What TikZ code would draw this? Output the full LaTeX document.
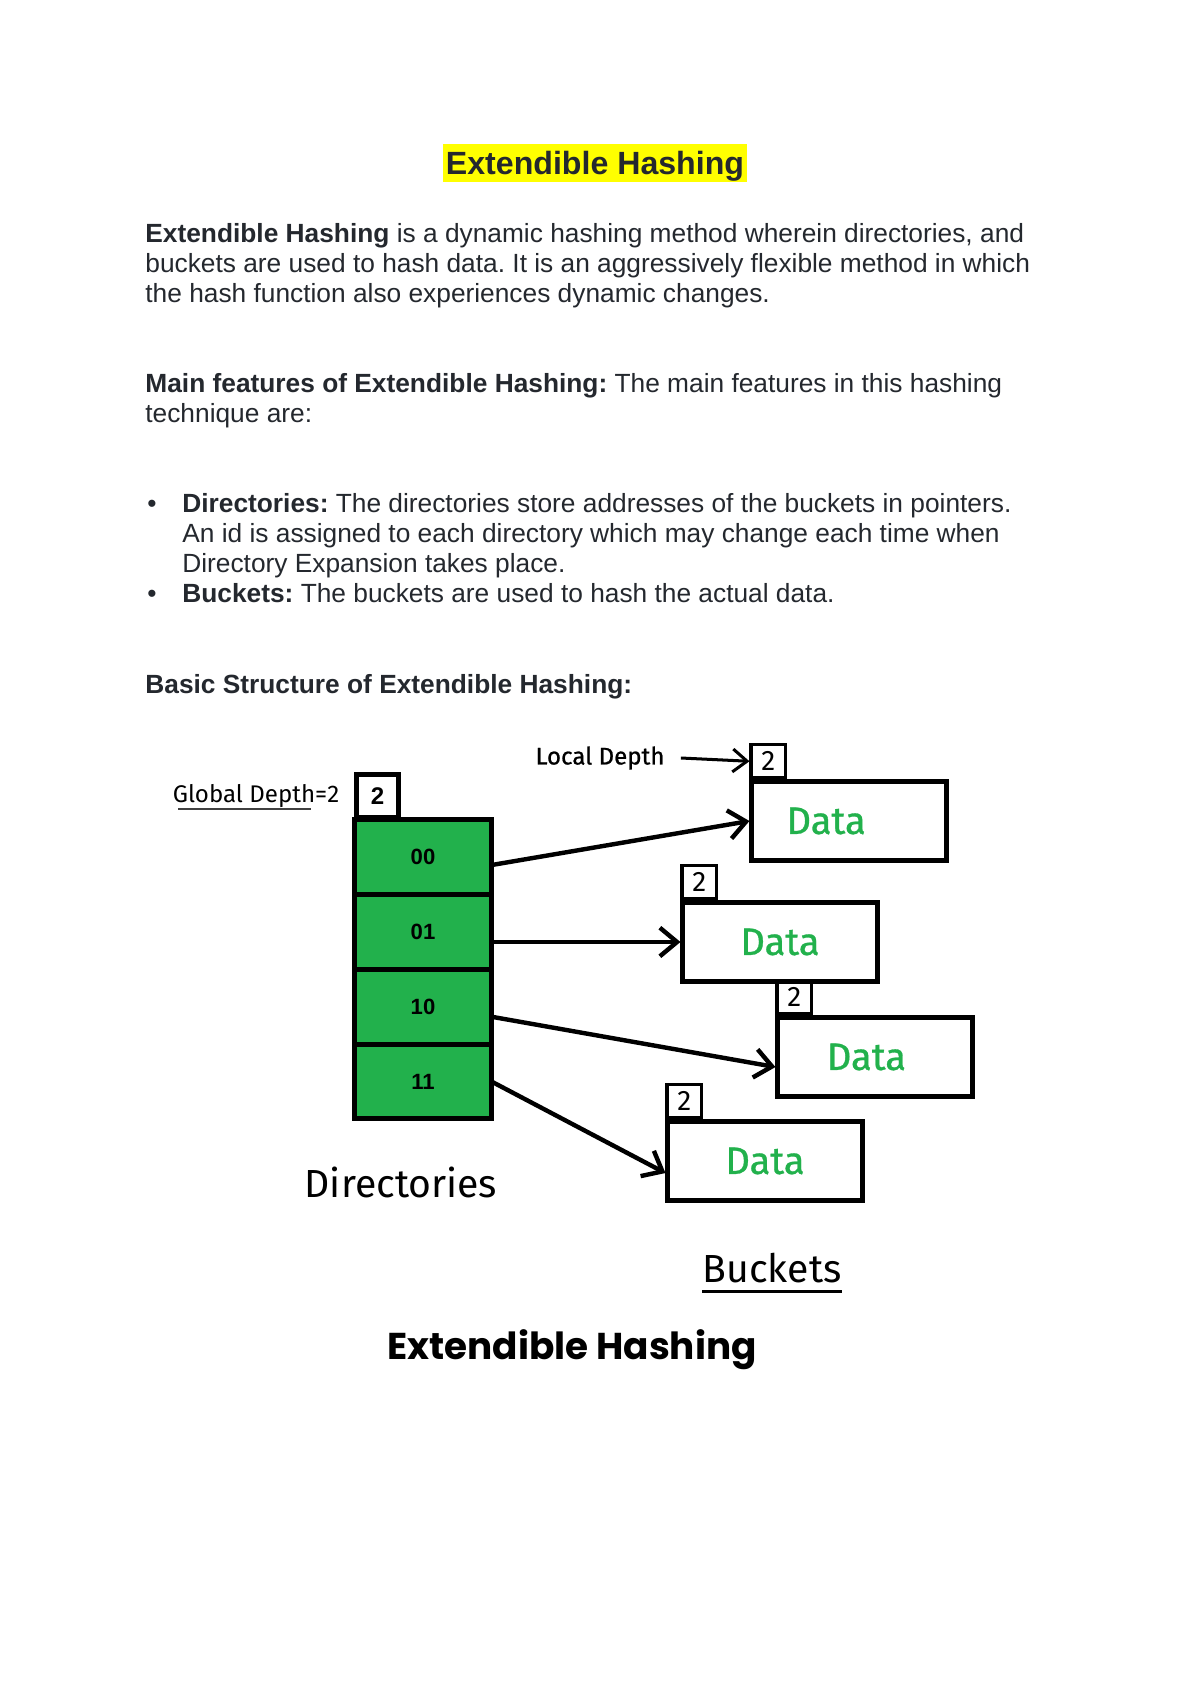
\documentclass[tikz,border=0pt]{standalone}
\usepackage{fontspec}
\setmainfont{Liberation Sans}
\newfontfamily\dinfont{Fira Sans}
\newfontfamily\dinmedium{Fira Sans}[FakeBold=0.8]
\newfontfamily\heavyfont{Poppins}
\usetikzlibrary{arrows.meta, positioning}
\definecolor{paintgreen}{RGB}{34,177,76}
\definecolor{markyellow}{RGB}{255,255,0}
\definecolor{bodyink}{RGB}{36,40,46}
\frenchspacing
\tikzset{
    bodytext/.style={anchor=north west, inner sep=0pt, align=left, text=bodyink, font=\fontsize{13.1}{14.9}\selectfont},
    dirrow/.style={rectangle, draw=black, line width=2.5pt, fill=paintgreen, minimum width=2.4cm, minimum height=1.31cm, outer sep=0pt, font=\bfseries\fontsize{11}{13}\selectfont},
    bucketbox/.style={rectangle, draw=black, line width=2.4pt, minimum width=3.4cm, minimum height=1.37cm, text=paintgreen, font=\dinmedium\fontsize{19}{22}\selectfont},
    depthbox/.style={rectangle, draw=black, line width=1.6pt, minimum width=0.6cm, minimum height=0.58cm, inner sep=0pt, font=\dinfont\fontsize{14}{16}\selectfont},
    ptrarrow/.style={-{Straight Barb[length=3mm, width=5mm]}, line width=2.2pt},
    caption/.style={inner sep=0pt, font=\dinfont\fontsize{19.5}{22}\selectfont},
}

\begin{document}
\begin{tikzpicture}[x=0.0175cm, y=-0.0175cm]

\path[fill=white] (0,0) rectangle (1200,1696);

% page text
\node[fill=markyellow, inner xsep=1.5pt, inner ysep=0.5pt, text height=14.6pt, text depth=3.6pt, text=bodyink, font=\bfseries\fontsize{16}{19}\selectfont] (title) at (595,163) {Extendible Hashing};

\node[bodytext] (intro) at (145,223) {\textbf{Extendible Hashing} is a dynamic hashing method wherein directories, and\\buckets are used to hash data. It is an aggressively flexible method in which\\the hash function also experiences dynamic changes.};

\node[bodytext] (features) at (145,373) {\textbf{Main features of Extendible Hashing:} The main features in this hashing\\technique are:};

\node[bodytext] (bullets) at (147,493) {\makebox[17.4pt][l]{\textbullet}\textbf{Directories:} The directories store addresses of the buckets in pointers.\\\hspace*{17.4pt}An id is assigned to each directory which may change each time when\\\hspace*{17.4pt}Directory Expansion takes place.\\\makebox[17.4pt][l]{\textbullet}\textbf{Buckets:} The buckets are used to hash the actual data.};

\node[bodytext] (basic) at (145,674) {\textbf{Basic Structure of Extendible Hashing:}};

% directories
\node[dirrow] (d00) at (423,857) {00};
\node[dirrow, below=0pt of d00] (d01) {01};
\node[dirrow, below=0pt of d01] (d10) {10};
\node[dirrow, below=0pt of d10] (d11) {11};

\node[depthbox, line width=2.5pt, minimum width=0.72cm, minimum height=0.75cm, font=\bfseries\fontsize{12}{14}\selectfont, above right=0pt of d00.north west] (gdepth) {2};
\node[caption, font=\dinfont\fontsize{12}{14}\selectfont, left=0.26cm of gdepth] (gdlabel) {Global Depth=2};
\draw[line width=0.9pt, black!75] ([xshift=3pt, yshift=-3.5pt]gdlabel.base west) -- ([xshift=-14pt, yshift=-3.5pt]gdlabel.base east);

% buckets
\node[bucketbox] (b1) at (849,821) {Data\hspace*{0.8cm}};
\node[bucketbox] (b2) at (780,942) {Data};
\node[bucketbox] (b3) at (875,1057) {Data\hspace*{0.3cm}};
\node[bucketbox] (b4) at (765,1161) {Data};

\node[depthbox, above right=0pt of b1.north west] (ld1) {2};
\node[depthbox, above right=0pt of b2.north west] (ld2) {2};
\node[depthbox, above right=0pt of b3.north west] (ld3) {2};
\node[depthbox, above right=0pt of b4.north west] (ld4) {2};

\node[caption, font=\dinmedium\fontsize{12}{14}\selectfont] (ldlabel) at (600,758) {Local Depth};
\draw[-{Straight Barb[length=2.5mm, width=4mm]}, line width=1.5pt] ([xshift=8pt]ldlabel.east) -- (ld1.west);

% pointers
\draw[ptrarrow] ([yshift=-4pt]d00.east) -- (b1.west);
\draw[ptrarrow] (d01.east |- b2.west) -- (b2.west);
\draw[ptrarrow] ([yshift=-5pt]d10.east) -- ([yshift=-5pt]b3.west);
\draw[ptrarrow] (d11.east) -- ([yshift=-6pt]b4.west);

% captions
\node[caption] (dirlabel) at (401,1182) {Directories};
\node[caption] (bktlabel) at (772,1268) {Buckets};
\draw[line width=1pt] ([yshift=-4.5pt]bktlabel.base west) -- ([yshift=-4.5pt]bktlabel.base east);

\node[font=\heavyfont\bfseries\fontsize{18.6}{22}\selectfont] (figtitle) at (572,1350) {Extendible Hashing};

\end{tikzpicture}
\end{document}
